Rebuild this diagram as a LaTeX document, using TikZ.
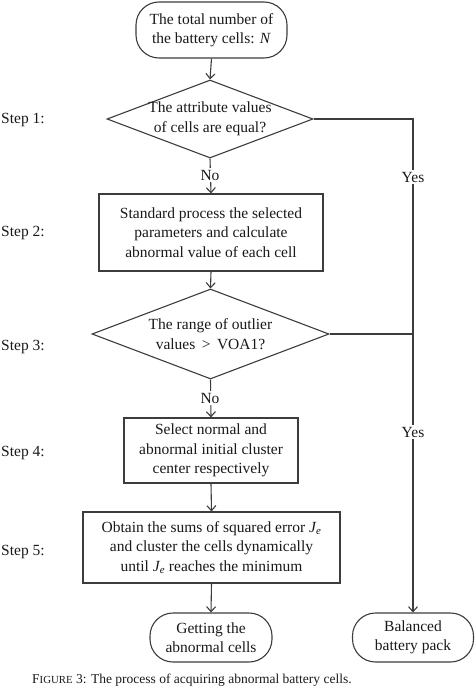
\documentclass[tikz,border=0pt]{standalone}
\usepackage{fontspec}
\setmainfont{Liberation Serif}
\usetikzlibrary{shapes.geometric,arrows.meta}
\definecolor{lc}{RGB}{60,60,60}
\definecolor{tc}{RGB}{25,25,25}
\begin{document}
\begin{tikzpicture}[x=1pt,y=-1pt,
  every node/.style={font=\fontsize{15.5}{19.5}\selectfont, text=tc},
  box/.style={draw=lc, line width=1.1pt, inner sep=0pt, align=center},
  dia/.style={draw=lc, line width=1.1pt, diamond, inner sep=0pt},
  term/.style={draw=lc, line width=1.1pt, rounded corners=23pt, inner sep=0pt, align=center},
  arr/.style={draw=lc, line width=1.1pt, -{Straight Barb[length=5pt,width=9pt]}},
  ln/.style={draw=lc, line width=1.1pt},
  lab/.style={fill=white, inner sep=1.5pt},
  steplab/.style={anchor=west, inner sep=0pt}]
\useasboundingbox (0,0) rectangle (474,688);
% nodes
\node[term, minimum width=151pt, minimum height=56pt] (start) at (211.5,30) {The total number of\\the battery cells: \textit{N}};
\node[dia, minimum width=206pt, minimum height=78pt] (d1) at (210,119) {};
\node[align=center, inner sep=0pt] (d1t) at (210,119) {The attribute values\\of cells are equal?};
\node[box, minimum width=224pt, minimum height=77pt] (b2) at (211,232.5) {Standard process the selected\\parameters and calculate\\abnormal value of each cell};
\node[dia, minimum width=237pt, minimum height=90pt] (d2) at (210.5,334) {};
\node[align=center, inner sep=0pt] (d2t) at (210.5,334) {The range of outlier\\values \,{>}\, VOA1?};
\node[box, minimum width=174pt, minimum height=65pt] (b4) at (211,450.5) {Select normal and\\abnormal initial cluster\\center respectively};
\node[box, minimum width=257pt, minimum height=71pt] (b5) at (211.5,547.5) {Obtain the sums of squared error \textit{J\textsubscript{e}}\\and cluster the cells dynamically\\until \textit{J\textsubscript{e}} reaches the minimum};
\node[term, minimum width=122pt, minimum height=49pt] (e1) at (211,637.5) {Getting the\\abnormal cells};
\node[term, minimum width=121pt, minimum height=49pt] (e2) at (413,637.5) {Balanced\\battery pack};
% steps
\node[steplab] (s1) at (1,120) {Step 1:};
\node[steplab] (s2) at (1,233) {Step 2:};
\node[steplab] (s3) at (1,347) {Step 3:};
\node[steplab] (s4) at (1,453) {Step 4:};
\node[steplab] (s5) at (1,552) {Step 5:};
% connectors
\draw[arr] (start.south) -- (d1.north);
\draw[arr] (d1.south) -- (b2.north);
\draw[arr] (b2.south) -- (d2.north);
\draw[arr] (d2.south) -- (b4.north);
\draw[arr] (b4.south) -- (b5.north);
\draw[arr] (b5.south) -- (e1.north);
\draw[arr] (d1.east) -| (e2.north);
\coordinate (j) at (d2.east -| e2.north);
\draw[ln] (d2.east) -- (j);
% labels
\node[lab] (no1) at (210,175) {No};
\node[lab] (no2) at (210,398) {No};
\node[lab] (yes1) at (413,177) {Yes};
\node[lab] (yes2) at (413,432) {Yes};
% caption
\node[anchor=base west, inner sep=0pt, font=\fontsize{13.5}{15}\selectfont] (cap) at (32,683.5) {F{\fontsize{10.8}{12}\selectfont IGURE} 3: The process of acquiring abnormal battery cells.};
\end{tikzpicture}
\end{document}
